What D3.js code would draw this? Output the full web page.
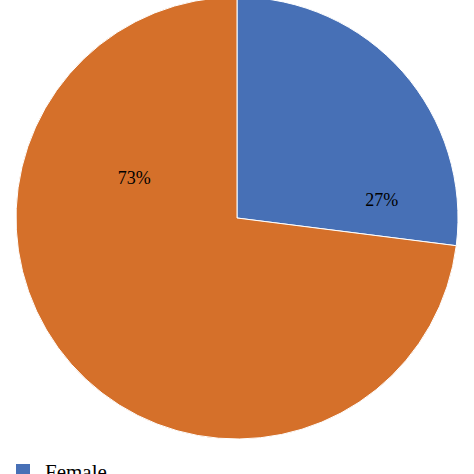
<!DOCTYPE html><html><head><script src="https://cdn.jsdelivr.net/npm/d3@7"></script>
<style>body{margin:0;background:#fff}</style></head><body><svg width="474" height="474"></svg>
<script>
const categories=["Female","Male"];
const values=[27,73];
const colors=["#4770b6","#d5702a"];
const svg=d3.select("svg");
const cx=237,cy=218,r=221;
const pie=d3.pie().sort(null).value(d=>d)(values);
const arc=d3.arc().innerRadius(0).outerRadius(r);
const g=svg.append("g").attr("transform",`translate(${cx},${cy})`);
g.selectAll("path").data(pie).join("path").attr("d",arc).attr("fill",(d,i)=>colors[i]).attr("stroke","#fff").attr("stroke-width",1);
// label anchor placement (Excel-style best fit)
const labelPos=[{a:0.23*Math.PI*2,rr:0.66},{a:0.81*Math.PI*2,rr:0.5}];
g.selectAll("text").data(pie).join("text")
 .attr("x",(d,i)=>Math.sin(labelPos[i].a)*r*labelPos[i].rr)
 .attr("y",(d,i)=>-Math.cos(labelPos[i].a)*r*labelPos[i].rr)
 .attr("text-anchor","middle").attr("dy","0.35em").attr("font-family","Liberation Serif").attr("font-size",18)
 .text(d=>d.data+"%");
svg.append("rect").attr("x",16).attr("y",464).attr("width",14).attr("height",12).attr("fill",colors[0]);
svg.append("text").attr("x",45).attr("y",479).attr("font-family","Liberation Serif").attr("font-size",21).text(categories[0]);
</script></body></html>
